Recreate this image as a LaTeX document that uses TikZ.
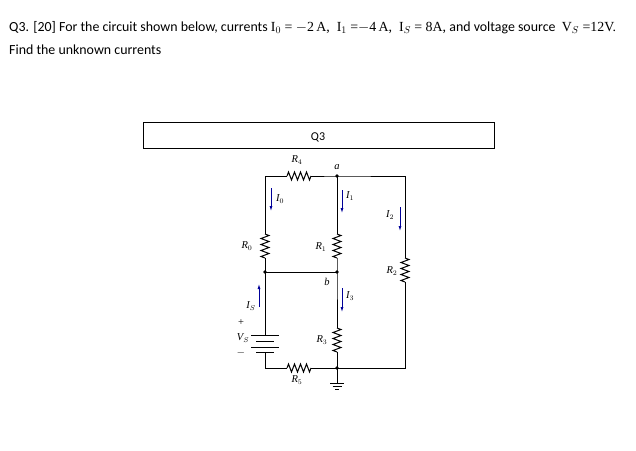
\documentclass[tikz,border=0pt]{standalone}
\usepackage{fontspec}
\setmainfont{Carlito}
\newfontfamily\tms{Liberation Serif}
\usetikzlibrary{decorations.pathmorphing,arrows.meta}
\begin{document}
\begin{tikzpicture}[x=1pt,y=-1pt,
  wire/.style={line width=1pt},
  res/.style={wire,decorate,decoration={zigzag,amplitude=4pt,segment length=6pt}},
  cur/.style={draw=blue!60!black,line width=0.8pt,-{Latex[length=5pt,width=3pt]}},
  lbl/.style={font=\tms\itshape\fontsize{10.5}{12}\selectfont,inner sep=0pt},
  dot/.style={circle,fill,inner sep=1.4pt}]
\useasboundingbox (0,0) rectangle (636,450);
\node[anchor=west,font=\fontsize{13.9}{16}\selectfont,inner sep=0pt] (t1) at (9,28) {Q3. [20] For the circuit shown below, currents {\tms I$_0$ = $-$2\,A, \ I$_1$ =$-$4\,A, \ I$_S$ = 8A,} and voltage source \ {\tms V$_S$ =12V.}};
\node[anchor=west,font=\fontsize{13.9}{16}\selectfont,inner sep=0pt] (t2) at (9,50) {Find the unknown currents};
\node[draw,minimum width=351pt,minimum height=26pt,inner sep=0pt] (box) at (318.5,135) {};
\node[font=\fontsize{12}{14}\selectfont] (q3) at (318,137) {Q3};
\coordinate (tl) at (265,176); \coordinate (a) at (337,176); \coordinate (tr) at (405,176);
\coordinate (bl) at (265,272); \coordinate (b) at (337,272);
\coordinate (gl) at (265,368); \coordinate (g) at (337,368); \coordinate (gr) at (405,368);
\coordinate (r4a) at (287,176); \coordinate (r4b) at (311,176);
\coordinate (r0a) at (265,234); \coordinate (r0b) at (265,258);
\coordinate (r1a) at (337,234); \coordinate (r1b) at (337,258);
\coordinate (r2a) at (405,258); \coordinate (r2b) at (405,282);
\coordinate (r3a) at (337,328); \coordinate (r3b) at (337,352);
\coordinate (r5a) at (287,368); \coordinate (r5b) at (311,368);
\coordinate (bt1) at (265,335); \coordinate (bt2) at (265,352);
\draw[wire] (r0a) -- (tl) -- (r4a); \draw[res] (r4a) -- (r4b); \draw[wire] (r4b) -- (a) -- (tr) -- (r2a);
\draw[res] (r2a) -- (r2b); \draw[wire] (r2b) -- (gr) -- (g);
\draw[res] (r0a) -- (r0b); \draw[wire] (r0b) -- (bl) -- (b);
\draw[wire] (a) -- (r1a); \draw[res] (r1a) -- (r1b); \draw[wire] (r1b) -- (b) -- (r3a);
\draw[res] (r3a) -- (r3b); \draw[wire] (r3b) -- (g);
\draw[wire] (bl) -- (bt1); \draw[wire] (bt2) -- (gl) -- (r5a); \draw[res] (r5a) -- (r5b); \draw[wire] (r5b) -- (g);
\draw[wire] (251,335) -- (279,335); \draw[wire] (256,341) -- (274,341);
\draw[wire] (251,347) -- (279,347); \draw[wire] (256,352) -- (274,352);
\draw[wire] (g) -- (337,383);
\draw[wire] (330,383) -- (344,383); \draw[wire] (332.5,386) -- (341.5,386); \draw[wire] (335,389) -- (339,389);
\node[dot] (na) at (a) {}; \node[dot] (nb) at (b) {}; \node[dot] (nbl) at (bl) {}; \node[dot] (ng) at (g) {};
\draw[cur] (271,188) -- (271,211); \draw[cur] (342,190) -- (342,213);
\draw[cur] (400,207) -- (400,231); \draw[cur] (342,288) -- (342,312);
\draw[cur] (259,307) -- (259,284);
\node[lbl] (lr4) at (297,160) {R$_4$}; \node[lbl] (la) at (337,167) {a};
\node[lbl] (li0) at (280,199) {I$_0$}; \node[lbl] (li1) at (350,196) {I$_1$};
\node[lbl] (li2) at (390,215) {I$_2$}; \node[lbl] (lr0) at (247,246) {R$_0$};
\node[lbl] (lr1) at (321,247) {R$_1$}; \node[lbl] (lb) at (327,282) {b};
\node[lbl] (lr2) at (392,271) {R$_2$}; \node[lbl] (li3) at (350,296) {I$_3$};
\node[lbl] (lis) at (251,306) {I$_S$}; \node[font=\tms\fontsize{10.5}{12}\selectfont,inner sep=0pt] (lp) at (241,323) {+};
\node[lbl] (lvs) at (243,338) {V$_S$}; \node[font=\tms\fontsize{10.5}{12}\selectfont,inner sep=0pt] (lm) at (241,353) {$-$};
\node[lbl] (lr3) at (322,340) {R$_3$}; \node[lbl] (lr5) at (297,380) {R$_5$};
\end{tikzpicture}
\end{document}
